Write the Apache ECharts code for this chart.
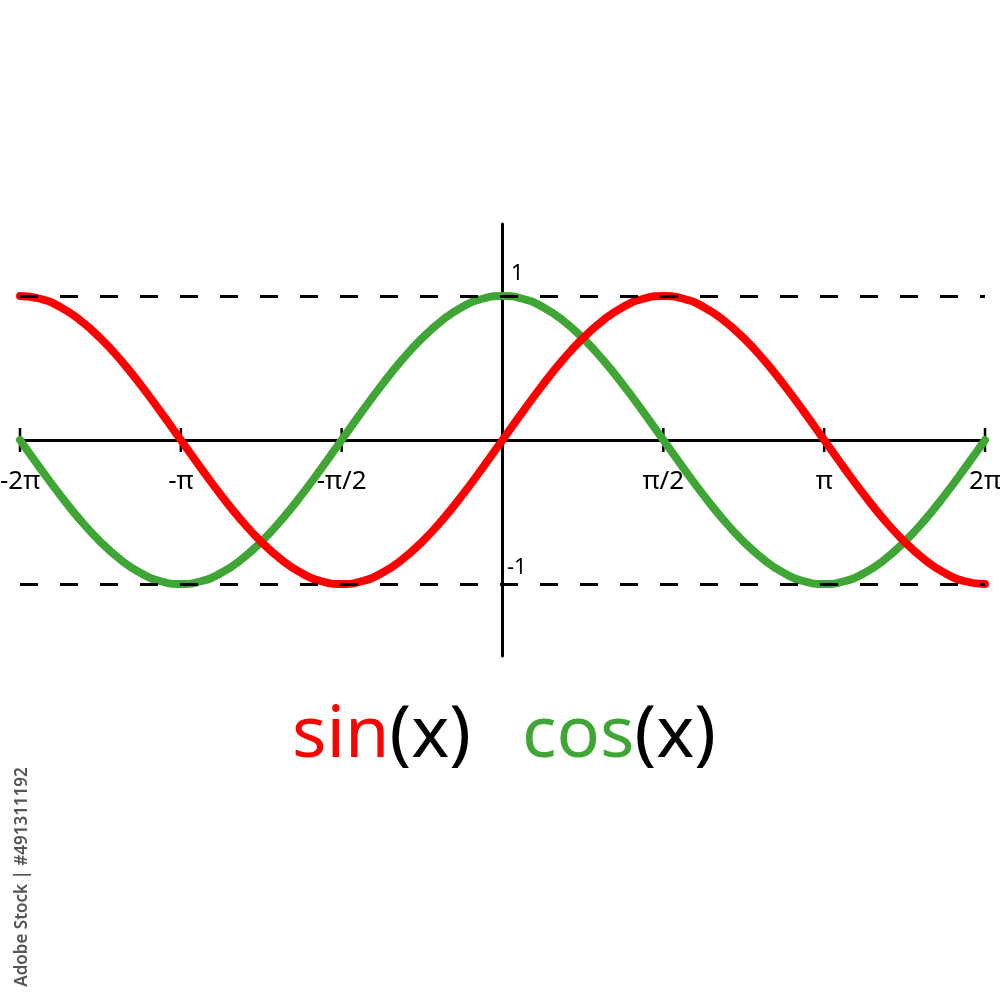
<!DOCTYPE html>
<html>
<head>
<meta charset="utf-8">
<script src="https://cdn.jsdelivr.net/npm/echarts@6/dist/echarts.min.js"></script>
<style>
html,body{margin:0;padding:0;background:#fff;}
#chart{width:1000px;height:1000px;}
</style>
</head>
<body>
<div id="chart"></div>
<script>
// x positions in tick units (one tick step on the axis)
const xValues = [-3,-2.875,-2.75,-2.625,-2.5,-2.375,-2.25,-2.125,-2,-1.875,-1.75,-1.625,-1.5,-1.375,-1.25,-1.125,-1,-0.875,-0.75,-0.625,-0.5,-0.375,-0.25,-0.125,0,0.125,0.25,0.375,0.5,0.625,0.75,0.875,1,1.125,1.25,1.375,1.5,1.625,1.75,1.875,2,2.125,2.25,2.375,2.5,2.625,2.75,2.875,3];
// red curve
const sinValues = [1,0.981,0.924,0.831,0.707,0.556,0.383,0.195,0,-0.195,-0.383,-0.556,-0.707,-0.831,-0.924,-0.981,-1,-0.981,-0.924,-0.831,-0.707,-0.556,-0.383,-0.195,0,0.195,0.383,0.556,0.707,0.831,0.924,0.981,1,0.981,0.924,0.831,0.707,0.556,0.383,0.195,0,-0.195,-0.383,-0.556,-0.707,-0.831,-0.924,-0.981,-1];
// green curve
const cosValues = [0,-0.195,-0.383,-0.556,-0.707,-0.831,-0.924,-0.981,-1,-0.981,-0.924,-0.831,-0.707,-0.556,-0.383,-0.195,0,0.195,0.383,0.556,0.707,0.831,0.924,0.981,1,0.981,0.924,0.831,0.707,0.556,0.383,0.195,0,-0.195,-0.383,-0.556,-0.707,-0.831,-0.924,-0.981,-1,-0.981,-0.924,-0.831,-0.707,-0.556,-0.383,-0.195,0];
// tick marks and labels on the horizontal axis (value 0 has none)
const xTickValues = [-3,-2,-1,1,2,3];
const xTickLabels = ['-2π','-π','-π/2','π/2','π','2π'];
// tick labels on the vertical axis
const yTickValues = [1,-1];
const yTickLabels = ['1','-1'];
// dashed reference levels
const refLevels = [1,-1];

const sinData = xValues.map((x,i)=>[x,sinValues[i]]);
const cosData = xValues.map((x,i)=>[x,cosValues[i]]);
const yLabelOffsets = [[0,-22],[-4,-16]];

const chart = echarts.init(document.getElementById('chart'));
const FONT = 'Noto Sans';

chart.setOption({
  backgroundColor:'#ffffff',
  animation:false,
  grid:{left:20,right:15,top:224,height:432},
  xAxis:{
    type:'value',min:-3,max:3,interval:1,
    axisLine:{show:true,onZero:true,lineStyle:{color:'#000',width:3}},
    axisTick:{show:false},
    axisLabel:{show:false},
    splitLine:{show:false}
  },
  yAxis:{
    type:'value',min:-1.5,max:1.5,interval:0.5,
    axisLine:{show:true,onZero:true,lineStyle:{color:'#000',width:3}},
    axisTick:{show:false},
    axisLabel:{show:false},
    splitLine:{show:false}
  },
  series:[{
    type:'line',data:[],z:1,silent:true,
    markLine:{silent:true,symbol:['none','none'],label:{show:false},
      lineStyle:{color:'#000',width:3,type:[18,22]},
      data:refLevels.map(v=>({yAxis:v}))}
  },{
    type:'scatter',data:xTickValues.map((v,i)=>({value:[v,0],name:xTickLabels[i]})),
    symbol:'rect',symbolSize:[2.5,24],z:2,silent:true,
    itemStyle:{color:'#000',opacity:1},
    label:{show:true,position:'bottom',distance:17,formatter:p=>p.name,color:'#000',fontFamily:FONT,fontSize:26}
  },{
    type:'scatter',data:yTickValues.map((v,i)=>({value:[0,v],name:yTickLabels[i],label:{offset:yLabelOffsets[i]}})),
    symbol:'circle',symbolSize:1,z:2,silent:true,
    itemStyle:{color:'rgba(0,0,0,0)',opacity:1},
    label:{show:true,position:'right',distance:8,formatter:p=>p.name,color:'#000',fontFamily:FONT,fontSize:22}
  },{
    name:'cos',type:'line',data:cosData,smooth:true,showSymbol:false,z:3,
    lineStyle:{color:'#3fa535',width:8,cap:'round'}
  },{
    name:'sin',type:'line',data:sinData,smooth:true,showSymbol:false,z:4,
    lineStyle:{color:'#ff0000',width:8,cap:'round'}
  }],
  graphic:[{
    type:'text',left:292,top:700,
    style:{text:'{r|sin}{k|(x)}',rich:{r:{fill:'#ff0000',fontFamily:FONT,fontSize:72},k:{fill:'#000',fontFamily:FONT,fontSize:72}}}
  },{
    type:'text',left:522,top:700,
    style:{text:'{g|cos}{k|(x)}',rich:{g:{fill:'#3fa535',fontFamily:FONT,fontSize:72},k:{fill:'#000',fontFamily:FONT,fontSize:72}}}
  },{
    type:'text',x:22,y:877,rotation:Math.PI/2,
    style:{text:'Adobe Stock | #491311192',fill:'#555',fontFamily:FONT,fontSize:17,fontWeight:600,align:'center',verticalAlign:'middle'}
  }]
});
</script>
</body>
</html>
